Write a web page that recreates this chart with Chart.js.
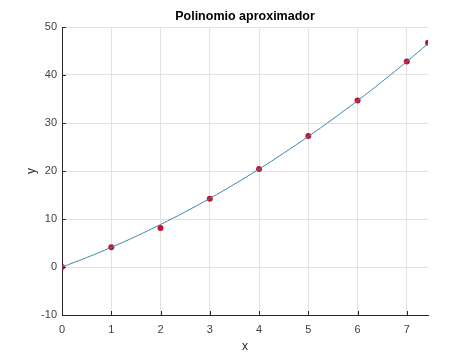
<!DOCTYPE html>
<html>
<head>
<meta charset="utf-8">
<script src="https://cdn.jsdelivr.net/npm/chart.js@4"></script>
<style>
  html, body { margin: 0; padding: 0; background: #fff; }
  #wrap { width: 474px; height: 355px; }
</style>
</head>
<body>
<div id="wrap"><canvas id="chart"></canvas></div>
<script>
// measured points (red markers)
const pointX = [0, 1, 2, 3, 4, 5, 6, 7, 7.43];
const pointY = [0, 4.1, 8.1, 14.2, 20.4, 27.3, 34.7, 42.8, 46.7];

// approximating polynomial
const curveX = [0, 0.5, 1, 1.5, 2, 2.5, 3, 3.5, 4, 4.5, 5, 5.5, 6, 6.5, 7, 7.43];
const curveY = [0, 1.96, 4.09, 6.38, 8.85, 11.48, 14.28, 17.26, 20.4, 23.71, 27.19, 30.84, 34.66, 38.64, 42.8, 46.5];

const xTicks = [0, 1, 2, 3, 4, 5, 6, 7];
const yTicks = [-10, 0, 10, 20, 30, 40, 50];

const axisColor = '#262626';
const gridColor = '#e3e3e3';
const tickFont = { family: 'Liberation Sans, Arial, sans-serif', size: 11 };

// MATLAB style inward tick marks
const innerTicks = {
  id: 'innerTicks',
  afterDraw(chart) {
    const ctx = chart.ctx;
    const xs = chart.scales.x, ys = chart.scales.y;
    const area = chart.chartArea;
    ctx.save();
    ctx.strokeStyle = axisColor;
    ctx.lineWidth = 1;
    ctx.beginPath();
    xTicks.forEach(v => {
      const px = Math.round(xs.getPixelForValue(v)) + 0.5;
      ctx.moveTo(px, area.bottom);
      ctx.lineTo(px, area.bottom - 4);
    });
    yTicks.forEach(v => {
      const py = Math.round(ys.getPixelForValue(v)) + 0.5;
      ctx.moveTo(area.left, py);
      ctx.lineTo(area.left + 4, py);
    });
    ctx.stroke();
    ctx.restore();
  }
};

new Chart(document.getElementById('chart'), {
  type: 'scatter',
  data: {
    datasets: [
      {
        type: 'line',
        data: curveX.map((x, i) => ({ x, y: curveY[i] })),
        borderColor: '#3a8aae',
        borderWidth: 1,
        pointRadius: 0,
        tension: 0.4,
        fill: false
      },
      {
        data: pointX.map((x, i) => ({ x, y: pointY[i] })),
        backgroundColor: '#c4122f',
        borderColor: '#c4122f',
        pointRadius: 3,
        pointBorderWidth: 0
      }
    ]
  },
  options: {
    responsive: true,
    maintainAspectRatio: false,
    animation: false,
    layout: { padding: { left: 0, right: 46, top: 0, bottom: 0 } },
    plugins: {
      legend: { display: false },
      tooltip: { enabled: false },
      title: {
        display: true,
        fullSize: false,
        text: 'Polinomio aproximador',
        color: '#000',
        font: { family: 'Liberation Sans, Arial, sans-serif', size: 12.5, weight: 'bold' },
        padding: { top: 9, bottom: 3 }
      }
    },
    scales: {
      x: {
        type: 'linear',
        min: 0,
        max: 7.43,
        afterBuildTicks: s => { s.ticks = xTicks.map(v => ({ value: v })); },
        afterFit: s => { s.height = 40; },
        ticks: { color: '#404040', font: tickFont, padding: 8, maxRotation: 0 },
        grid: { color: gridColor, drawTicks: false },
        border: { color: axisColor, width: 1 },
        title: {
          display: true, text: 'x', color: '#262626',
          font: { family: 'Liberation Sans, Arial, sans-serif', size: 12 },
          padding: { top: 0, bottom: 1 }
        }
      },
      y: {
        min: -10,
        max: 50,
        afterBuildTicks: s => { s.ticks = yTicks.map(v => ({ value: v })); },
        afterFit: s => { s.width = 62; },
        ticks: { color: '#404040', font: tickFont, padding: 5 },
        grid: { color: gridColor, drawTicks: false },
        border: { color: axisColor, width: 1 },
        title: {
          display: true, text: 'y', color: '#262626',
          font: { family: 'Liberation Sans, Arial, sans-serif', size: 12 },
          padding: { top: 24, bottom: 0 }
        }
      }
    }
  },
  plugins: [innerTicks]
});
</script>
</body>
</html>
